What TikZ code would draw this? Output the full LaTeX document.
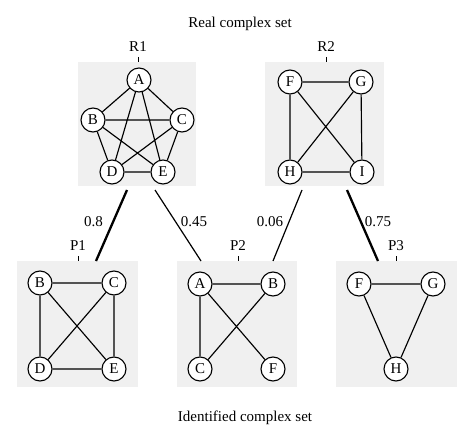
\documentclass[tikz,border=0pt]{standalone}
\usepackage{fontspec}
\setmainfont{Liberation Serif}
\definecolor{boxgray}{RGB}{240,240,240}
\begin{document}
\begin{tikzpicture}[x=1pt,y=-1pt,
  vtx/.style={circle,draw,fill=white,line width=1.1pt,minimum size=24pt,inner sep=0pt,font=\fontsize{15}{18}\selectfont},
  lbl/.style={font=\fontsize{15}{18}\selectfont,inner sep=0pt,anchor=base},
  panel/.style={fill=boxgray},
  edge/.style={line width=1.15pt},
  weak/.style={line width=1.2pt},
  strong/.style={line width=2.3pt},
  tickmark/.style={line width=0.8pt}]
\useasboundingbox (0,0) rectangle (474,441);
% panels
\fill[panel] (78,62) rectangle (196,186);
\fill[panel] (265,62) rectangle (384,186);
\fill[panel] (17,261) rectangle (138,387);
\fill[panel] (177,261) rectangle (297,387);
\fill[panel] (336,261) rectangle (457,387);
% titles
\node[lbl] (t1) at (240,28) {Real complex set};
\node[lbl] (t2) at (245,421) {Identified complex set};
\node[lbl] (r1) at (138,52) {R1};
\node[lbl] (r2) at (326,52) {R2};
\node[lbl] (p1) at (78,250) {P1};
\node[lbl] (p2) at (238,250) {P2};
\node[lbl] (p3) at (396,250) {P3};
% ticks
\coordinate (k1a) at (138,57); \coordinate (k1b) at (138,62);
\coordinate (k2a) at (326,57); \coordinate (k2b) at (326,62);
\coordinate (k3a) at (78,256); \coordinate (k3b) at (78,261);
\coordinate (k4a) at (238,256); \coordinate (k4b) at (238,261);
\coordinate (k5a) at (396,256); \coordinate (k5b) at (396,261);
\foreach \i in {1,...,5} \draw[tickmark] (k\i a) -- (k\i b);
% R1
\node[vtx] (A1) at (139,80) {A};
\node[vtx] (B1) at (93,120) {B};
\node[vtx] (C1) at (182,120) {C};
\node[vtx] (D1) at (112,172) {D};
\node[vtx] (E1) at (163,172) {E};
\draw[edge] (A1)--(B1) (A1)--(C1) (A1)--(D1) (A1)--(E1)
  (B1)--(C1) (B1)--(D1) (B1)--(E1) (C1)--(D1) (C1)--(E1) (D1)--(E1);
% R2
\node[vtx] (F2) at (290,82) {F};
\node[vtx] (G2) at (361,82) {G};
\node[vtx] (H2) at (290,172) {H};
\node[vtx] (I2) at (362,172) {I};
\draw[edge] (F2)--(G2) (F2)--(H2) (F2)--(I2) (G2)--(H2) (G2)--(I2) (H2)--(I2);
% P1
\node[vtx] (B3) at (40,283) {B};
\node[vtx] (C3) at (114,283) {C};
\node[vtx] (D3) at (40,369) {D};
\node[vtx] (E3) at (114,369) {E};
\draw[edge] (B3)--(C3) (B3)--(D3) (B3)--(E3) (C3)--(D3) (C3)--(E3) (D3)--(E3);
% P2
\node[vtx] (A4) at (200,284) {A};
\node[vtx] (B4) at (273,284) {B};
\node[vtx] (C4) at (200,369) {C};
\node[vtx] (F4) at (273,369) {F};
\draw[edge] (A4)--(B4) (A4)--(C4) (A4)--(F4) (B4)--(C4);
% P3
\node[vtx] (F5) at (359,284) {F};
\node[vtx] (G5) at (433,284) {G};
\node[vtx] (H5) at (396,369) {H};
\draw[edge] (F5)--(G5) (F5)--(H5) (G5)--(H5);
% connectors
\coordinate (s1) at (127,190); \coordinate (e1) at (96,261);
\coordinate (s2) at (155,190); \coordinate (e2) at (201,261);
\coordinate (s3) at (302,190); \coordinate (e3) at (273,261);
\coordinate (s4) at (347,190); \coordinate (e4) at (378,261);
\draw[strong] (s1) -- (e1);
\draw[weak] (s2) -- (e2);
\draw[weak] (s3) -- (e3);
\draw[strong] (s4) -- (e4);
\node[lbl] (w1) at (93.5,226) {0.8};
\node[lbl] (w2) at (194,226) {0.45};
\node[lbl] (w3) at (270,226) {0.06};
\node[lbl] (w4) at (378,226) {0.75};
\end{tikzpicture}
\end{document}
